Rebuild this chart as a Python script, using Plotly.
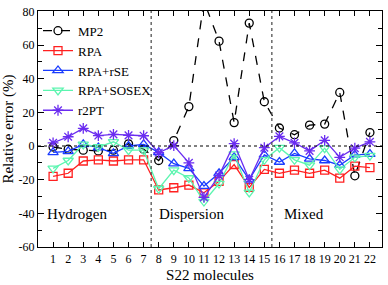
import plotly.graph_objects as go

molecules = list(range(1, 23))
mp2 = [-0.6, -1.9, -2.5, -2.9, -2.5, 1.3, -1.9, -8.6, 3.2, 23.4, 86.0, 62.3,
       13.9, 73.0, 26.3, 10.7, 6.7, 12.4, 13.0, 31.8, -17.7, 8.0]
rpa = [-18.1, -16.2, -8.9, -8.2, -8.9, -8.2, -8.2, -26.1, -24.8, -23.2, -27.8, -21.0,
       -11.0, -24.6, -13.9, -16.2, -14.3, -16.2, -14.3, -19.1, -12.0, -12.9]
rpa_rse = [-3.8, -3.2, 1.0, -1.0, -4.4, 0.0, 1.0, -3.8, -10.5, -13.3, -23.8, -16.2,
           -6.7, -20.0, -5.3, -9.5, -4.4, -7.6, -8.6, -11.4, -5.3, -4.8]
rpa_sosex = [-13.3, -8.6, 1.0, -0.6, 2.5, -2.5, -2.5, -25.4, -14.3, -19.0, -33.0, -22.3,
             -4.8, -27.6, -8.2, -1.0, -8.2, -11.4, -1.3, -13.9, -6.7, -5.7]
r2pt = [1.9, 5.5, 10.5, 6.2, 6.9, 6.3, 6.1, -4.0, 0.2, -10.0, -30.5, -17.6,
        1.4, -20.0, -1.0, 5.7, 1.9, -2.9, 3.4, -6.7, -1.3, 2.5]
y_ticks = [-60, -40, -20, 0, 20, 40, 60, 80]
region_labels = ["Hydrogen", "Dispersion", "Mixed"]
region_label_x = [2.6, 10.2, 17.6]

series = [
    ("MP2", mp2, "black", "circle-open", "dash", 8),
    ("RPA", rpa, "#ff2020", "square-open", "solid", 8),
    ("RPA+rSE", rpa_rse, "#1a3cff", "triangle-up-open", "solid", 9),
    ("RPA+SOSEX", rpa_sosex, "#5cf5b0", "triangle-down-open", "solid", 9),
    ("r2PT", r2pt, "#6a2cf0", "asterisk-open", "solid", 9),
]

SERIF = "Liberation Serif, Times New Roman, Times, serif"

fig = go.Figure()
for name, vals, col, sym, dash, sz in series:
    fig.add_trace(go.Scatter(
        x=molecules, y=vals, name=name, mode="lines+markers",
        line=dict(color=col, width=1.3, dash=dash),
        marker=dict(symbol=sym, size=sz, color=col, line=dict(color=col, width=1.3)),
        cliponaxis=True,
    ))

# dotted reference lines
fig.add_shape(type="line", xref="paper", x0=0, x1=1, yref="y", y0=0, y1=0,
              line=dict(color="black", width=1.2, dash="dot"))
for xv in [7.5, 15.5]:
    fig.add_shape(type="line", xref="x", x0=xv, x1=xv, yref="paper", y0=0, y1=1,
                  line=dict(color="#444", width=1.2, dash="dot"))

for txt, xv in zip(region_labels, region_label_x):
    fig.add_annotation(x=xv, y=-40.5, xref="x", yref="y", text=txt, showarrow=False,
                       font=dict(family=SERIF, size=15, color="black"))

fig.update_layout(
    width=388, height=285,
    margin=dict(l=38, r=5, t=5, b=35),
    paper_bgcolor="white", plot_bgcolor="white",
    font=dict(family=SERIF, size=12, color="black"),
    showlegend=True,
    legend=dict(x=0.0, y=0.98, xanchor="left", yanchor="top",
                bgcolor="rgba(0,0,0,0)", font=dict(family=SERIF, size=13),
                tracegroupgap=0, itemwidth=30),
    xaxis=dict(range=[0, 22.8], tickmode="array", tickvals=molecules,
               ticktext=[str(m) for m in molecules],
               ticks="inside", ticklen=5, tickcolor="black",
               showline=True, linecolor="black", linewidth=1.2, mirror="ticks",
               showgrid=False, zeroline=False, ticklabeloverflow="allow",
               title=dict(text="S22 molecules", font=dict(family=SERIF, size=15), standoff=4),
               tickfont=dict(family=SERIF, size=12)),
    yaxis=dict(range=[-60, 80.2], tickmode="array", tickvals=y_ticks,
               ticktext=[str(t) for t in y_ticks],
               ticks="inside", ticklen=6, tickcolor="black",
               minor=dict(ticks="inside", ticklen=4, tickmode="linear", tick0=-60, dtick=10,
                          tickcolor="black"),
               showline=True, linecolor="black", linewidth=1.2, mirror="ticks",
               showgrid=False, zeroline=False, ticklabeloverflow="allow",
               title=dict(text="Relative error (%)", font=dict(family=SERIF, size=15), standoff=2),
               tickfont=dict(family=SERIF, size=12)),
)

fig.write_html("out.html", config={"displayModeBar": False},
               post_script="document.body.style.margin='0px';document.body.style.padding='0px';")
